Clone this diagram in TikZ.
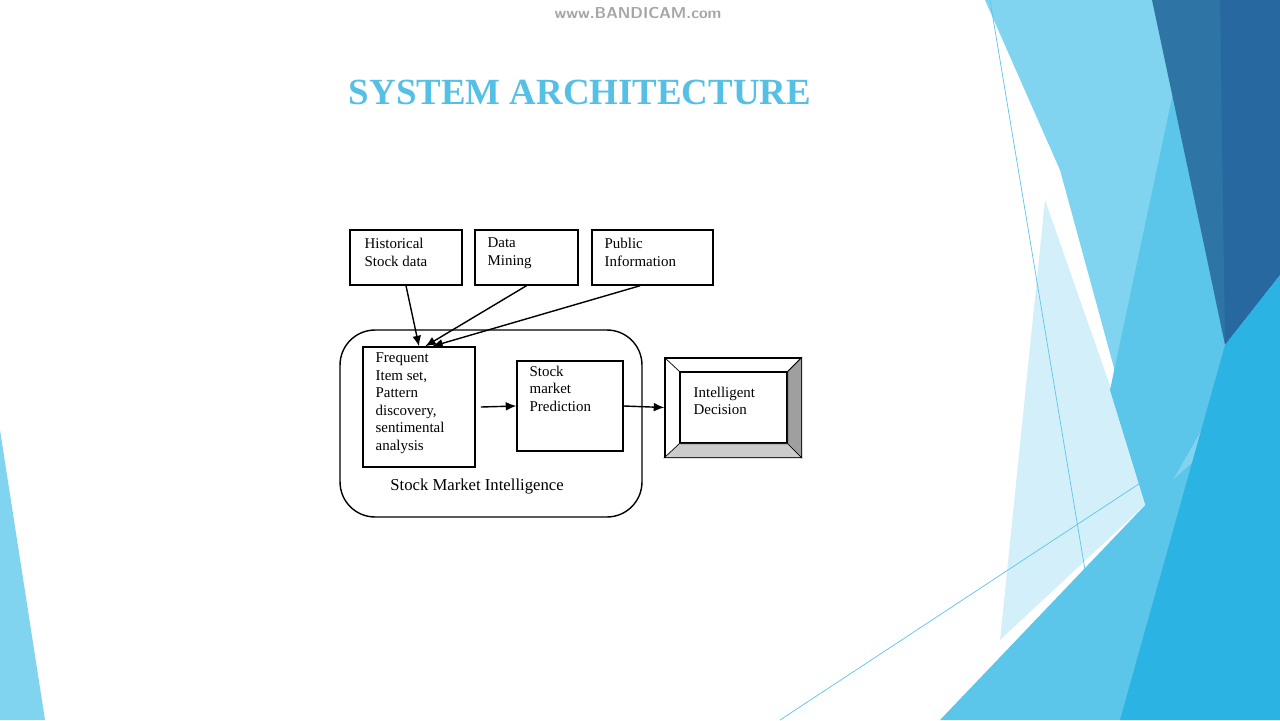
\documentclass[tikz,border=0pt]{standalone}
\usepackage{fontspec}
\setmainfont{Liberation Serif}
\usetikzlibrary{arrows.meta}

\definecolor{skyA}{HTML}{80D4F0}
\definecolor{skyB}{HTML}{5BC5EA}
\definecolor{skyC}{HTML}{2AB3E3}
\definecolor{deepA}{HTML}{2E75A6}
\definecolor{deepB}{HTML}{2868A0}
\definecolor{titleblue}{HTML}{55C0E6}

\tikzset{
    box/.style={draw, thick, rectangle, inner sep=0pt},
    boxtext/.style={font=\fontsize{8.5}{10}\selectfont, align=left, anchor=north west, inner sep=0pt},
    arr/.style={-{Latex[length=6pt,width=5pt]}, thick}
}

\begin{document}
\begin{tikzpicture}[x=0.02cm, y=-0.02cm]
        \useasboundingbox (0, 0) rectangle (1280, 720);
        % slide background
        \fill[white] (0, 0) rectangle (1280, 720);
        \fill[skyA] (985, 0) -- (1160, 0) -- (1240, 420) -- (1150, 500) -- (1060, 170) -- cycle;
        \fill[skyA!35] (1045, 200) -- (1150, 500) -- (1000, 640) -- cycle;
        \fill[skyB] (1110, 390) -- (1180, 60) -- (1230, 380) -- (1150, 520) -- cycle;
        \fill[deepA] (1152, 0) -- (1280, 0) -- (1280, 275) -- (1225, 345) -- (1203, 240) -- cycle;
        \fill[deepB] (1220, 0) -- (1280, 0) -- (1280, 275) -- (1225, 345) -- cycle;
        \fill[skyB] (940, 720) -- (1150, 500) -- (1240, 420) -- (1280, 420) -- (1280, 720) -- cycle;
        \fill[skyC] (1120, 720) -- (1225, 345) -- (1280, 275) -- (1280, 720) -- cycle;
        \draw[skyB] (990, 0) -- (1110, 720);
        \draw[skyB] (780, 720) -- (1160, 470);
        \fill[skyA] (0, 430) -- (45, 720) -- (0, 720) -- cycle;
        % watermark and title
        \node[font=\sffamily\bfseries\small, text=gray!70] (mark) at (638, 13) {www.BANDICAM.com};
        \node[font=\fontsize{21}{25}\bfseries\selectfont, text=titleblue] (title) at (580, 92) {SYSTEM ARCHITECTURE};

        % input boxes
        \node[box, minimum width=2.24cm, minimum height=1.1cm,
            label={[boxtext, xshift=3mm, yshift=-1.7mm]north west:Historical\\Stock data}] (hist) at (406, 257.5) {};
        \node[box, minimum width=2.06cm, minimum height=1.1cm,
            label={[boxtext, xshift=2.6mm, yshift=-1.7mm]north west:Data\\Mining}] (data) at (526.5, 257.5) {};
        \node[box, minimum width=2.42cm, minimum height=1.1cm,
            label={[boxtext, xshift=2.6mm, yshift=-1.7mm]north west:Public\\Information}] (public) at (652.5, 257.5) {};

        % stock market intelligence
        \node[box, rounded corners=0.7cm, minimum width=6.04cm, minimum height=3.74cm] (smi) at (491, 423.5) {};
        \node[font=\fontsize{9.5}{11}\selectfont] (smilabel) at (477, 487) {Stock Market Intelligence};
        \node[box, minimum width=2.24cm, minimum height=2.4cm,
            label={[boxtext, xshift=2.6mm, yshift=-1.2mm]north west:Frequent\\Item set,\\ Pattern\\discovery,\\sentimental\\analysis}] (freq) at (419, 407) {};
        \node[box, minimum width=2.12cm, minimum height=1.8cm,
            label={[boxtext, xshift=2.6mm, yshift=-1mm]north west:Stock\\market\\Prediction}] (pred) at (570, 406) {};

        % output with bevel
        \node[box, minimum width=2.72cm, minimum height=1.98cm] (out) at (733, 407.5) {};
        \node[box, minimum width=2.14cm, minimum height=1.42cm,
            label={[boxtext, xshift=2.8mm, yshift=-3mm]north west:Intelligent\\Decision}] (dec) at (733.5, 407.5) {};
        \fill[gray!40, draw=black] (out.south west) -- (dec.south west) -- (dec.south east) -- (out.south east) -- cycle;
        \fill[gray!75, draw=black] (out.south east) -- (dec.south east) -- (dec.north east) -- (out.north east) -- cycle;
        \draw (out.north west) -- (dec.north west);
        \draw (out.north east) -- (dec.north east);

        % connectors
        \draw[arr] (hist.south) -- (freq.north);
        \draw[arr] (data.south) -- ([xshift=3.5pt]freq.north);
        \draw[arr] ([xshift=-7pt]public.south) -- ([xshift=7.5pt]freq.north);
        \draw[arr] ([xshift=3pt]freq.east) -- (pred.west);
        \draw[arr] (pred.east) -- (out.west);
    \end{tikzpicture}
\end{document}
